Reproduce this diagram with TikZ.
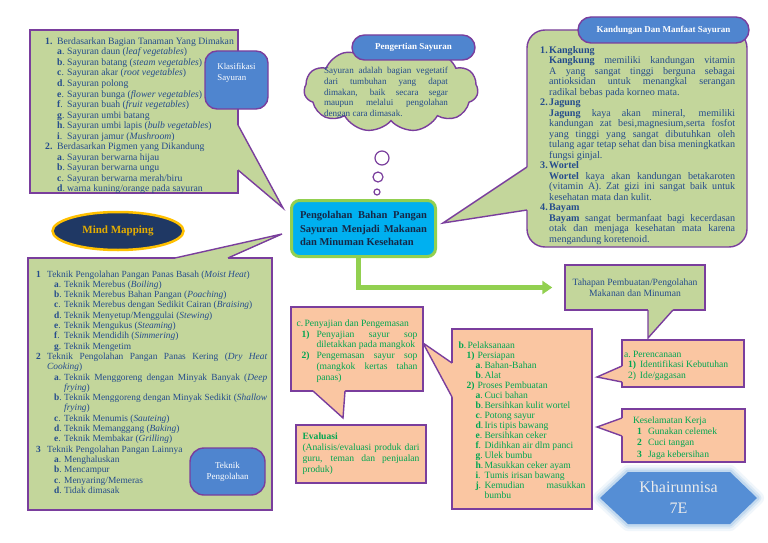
\documentclass[tikz,border=0pt]{standalone}
\usepackage{fontspec}
\setmainfont{Liberation Serif}
\usetikzlibrary{shapes.geometric,shapes.symbols,arrows.meta,positioning}

\definecolor{boxgreen}{HTML}{C3D69B}
\definecolor{boxpeach}{HTML}{FAC6A2}
\definecolor{boxpurple}{HTML}{7A3E9D}
\definecolor{labelblue}{HTML}{4F85CF}
\definecolor{navytext}{HTML}{254C8C}
\definecolor{leafgreen}{HTML}{00A650}
\definecolor{cyanfill}{HTML}{00B0F0}
\definecolor{limegreen}{HTML}{92D050}
\definecolor{darknavy}{HTML}{1F3864}
\definecolor{goldline}{HTML}{FFC000}
\definecolor{hexblue}{HTML}{558ED5}
\definecolor{glowblue}{HTML}{9DC3E6}

\hyphenpenalty=10000
\exhyphenpenalty=10000
\lineskiplimit=-6pt

% list row: indent, label width, label, text
\newcommand{\lrow}[4]{\par\noindent\hangindent=\dimexpr#1+#2\relax\hangafter=1\hspace*{#1}\makebox[#2][l]{#3}#4\par}
% callout tail: fill, base start, tip, base end, inward shift
\newcommand{\calltail}[5]{%
  \fill[#1] ([shift={(#5)}]#2) -- (#2) -- (#3) -- (#4) -- ([shift={(#5)}]#4) -- cycle;
  \draw[tailline] (#2) -- (#3) -- (#4);}

\tikzset{
  callgreen/.style={draw=boxpurple, fill=boxgreen, line width=1.4pt, inner sep=0pt},
  callpeach/.style={draw=boxpurple, fill=boxpeach, line width=1.4pt, inner sep=0pt},
  tailline/.style={draw=boxpurple, line width=1.4pt, line join=miter},
  tagbox/.style={draw=boxpurple, fill=labelblue, line width=1.4pt, text=white, inner sep=0pt},
  navytxt/.style={anchor=north west, inner sep=0pt, text=navytext, align=justify, font=\fontsize{9}{10}\selectfont},
  leaftxt/.style={text=leafgreen, align=justify, font=\fontsize{9.6}{10.5}\selectfont},
  bubble/.style={draw=boxpurple, fill=white, line width=1.2pt},
  flowarrow/.style={-{Triangle[length=10pt,width=13pt]}, line width=4.5pt, draw=limegreen, shorten >=12pt}
}

\begin{document}
\begin{tikzpicture}[x=1pt,y=-1pt]
  \useasboundingbox[fill=white] (0,0) rectangle (768,543);

  % klasifikasi
  \node[callgreen, minimum width=208, minimum height=163] (klas) at (134,111.5) {};
  \calltail{boxgreen}{238,125}{283,208}{238,170}{-2,0}
  \node[navytxt, text width=192, font=\fontsize{9.7}{10.55}\selectfont] (klasList) at (45,33.5) {%
    \lrow{0pt}{12pt}{\textbf{1.}}{Berdasarkan Bagian Tanaman Yang Dimakan}
    \lrow{12pt}{10pt}{\textbf{a}.}{Sayuran daun (\textit{leaf vegetables})}
    \lrow{12pt}{10pt}{\textbf{b}.}{Sayuran batang (\textit{steam vegetables})}
    \lrow{12pt}{10pt}{\textbf{c}.}{Sayuran akar (\textit{root vegetables})}
    \lrow{12pt}{10pt}{\textbf{d}.}{Sayuran polong}
    \lrow{12pt}{10pt}{\textbf{e}.}{Sayuran bunga (\textit{flower vegetables})}
    \lrow{12pt}{10pt}{\textbf{f}.}{Sayuran buah (\textit{fruit vegetables})}
    \lrow{12pt}{10pt}{\textbf{g}.}{Sayuran umbi batang}
    \lrow{12pt}{10pt}{\textbf{h}.}{Sayuran umbi lapis (\textit{bulb vegetables})}
    \lrow{12pt}{10pt}{\textbf{i}.}{Sayuran jamur (\textit{Mushroom})}
    \lrow{0pt}{12pt}{\textbf{2.}}{Berdasarkan Pigmen yang Dikandung}
    \lrow{12pt}{10pt}{\textbf{a}.}{Sayuran berwarna hijau}
    \lrow{12pt}{10pt}{\textbf{b}.}{Sayuran berwarna ungu}
    \lrow{12pt}{10pt}{\textbf{c}.}{Sayuran berwarna merah/biru}
    \lrow{12pt}{10pt}{\textbf{d}.}{warna kuning/orange pada sayuran}};
  \node[tagbox, rounded corners=12pt, minimum width=63, minimum height=58, align=left,
        text depth=16pt, font=\fontsize{8.8}{11}\selectfont] (klasTag) at (236.5,80) {Klasifikasi\\Sayuran};

  % pengertian
  \node[cloud, cloud puffs=11, cloud puff arc=110, aspect=2.1, draw=boxpurple, fill=boxgreen,
        line width=1.4pt, minimum width=174, minimum height=86] (pengertian) at (391,89) {};
  \node[text width=124, inner sep=0pt, align=justify, text=navytext,
        font=\fontsize{9.1}{10.75}\selectfont] (pengertianText) at (386,93)
    {Sayuran adalah bagian vegetatif dari tumbuhan yang dapat dimakan, baik secara segar maupun melalui pengolahan dengan cara dimasak.};
  \node[tagbox, rounded corners=12.5pt, minimum width=123, minimum height=25,
        font=\bfseries\fontsize{9}{10}\selectfont] (pengertianTag) at (413.5,47.5) {Pengertian Sayuran};
  \foreach \cx/\cy/\r in {382/158/7, 378/177/5, 377/192/3}
    \draw[bubble] (\cx,\cy) circle (\r);

  % kandungan dan manfaat
  \node[callgreen, rounded corners=18pt, minimum width=220, minimum height=217] (manfaat) at (637,138.5) {};
  \calltail{boxgreen}{527,167}{443,223}{527,210}{2,0}
  \node[navytxt, text width=195, font=\fontsize{10.1}{10.5}\selectfont] (manfaatList) at (540,42.5) {%
    \lrow{0pt}{9pt}{\textbf{1.}}{\textbf{Kangkung}}
    \lrow{9pt}{0pt}{}{\textbf{Kangkung} memiliki kandungan vitamin A yang sangat tinggi berguna sebagai antioksidan untuk menangkal serangan radikal bebas pada korneo mata.}
    \lrow{0pt}{9pt}{\textbf{2.}}{\textbf{Jagung}}
    \lrow{9pt}{0pt}{}{\textbf{Jagung} kaya akan mineral, memiliki kandungan zat besi,magnesium,serta fosfot yang tinggi yang sangat dibutuhkan oleh tulang agar tetap sehat dan bisa meningkatkan fungsi ginjal.}
    \lrow{0pt}{9pt}{\textbf{3.}}{\textbf{Wortel}}
    \lrow{9pt}{0pt}{}{\textbf{Wortel} kaya akan kandungan betakaroten (vitamin A). Zat gizi ini sangat baik untuk kesehatan mata dan kulit.}
    \lrow{0pt}{9pt}{\textbf{4.}}{\textbf{Bayam}}
    \lrow{9pt}{0pt}{}{\textbf{Bayam} sangat bermanfaat bagi kecerdasan otak dan menjaga kesehatan mata karena mengandung koretenoid.}};
  \node[tagbox, rounded corners=13pt, minimum width=171, minimum height=26,
        font=\bfseries\fontsize{9}{10}\selectfont] (manfaatTag) at (663.5,30) {Kandungan Dan Manfaat Sayuran};

  % mind mapping
  \node[ellipse, draw=goldline, fill=darknavy, line width=2.5pt, minimum width=131, minimum height=38,
        text=goldline!90!black, font=\bfseries\fontsize{11}{12}\selectfont] (mind) at (118,231) {Mind Mapping};

  % teknik pengolahan
  \node[callgreen, minimum width=244, minimum height=252] (teknik) at (150,384) {};
  \calltail{boxgreen}{175,258}{282,234}{228,258}{0,2}
  \node[navytxt, text width=231, font=\fontsize{9.4}{10.3}\selectfont] (teknikList) at (36,266.5) {%
    \lrow{0pt}{11pt}{\textbf{1}}{Teknik Pengolahan Pangan Panas Basah (\textit{Moist Heat})}
    \lrow{18pt}{10pt}{\textbf{a}.}{Teknik Merebus (\textit{Boiling})}
    \lrow{18pt}{10pt}{\textbf{b}.}{Teknik Merebus Bahan Pangan (\textit{Poaching})}
    \lrow{18pt}{10pt}{\textbf{c}.}{Teknik Merebus dengan Sedikit Cairan (\textit{Braising})}
    \lrow{18pt}{10pt}{\textbf{d}.}{Teknik Menyetup/Menggulai (\textit{Stewing})}
    \lrow{18pt}{10pt}{\textbf{e}.}{Teknik Mengukus (\textit{Steaming})}
    \lrow{18pt}{10pt}{\textbf{f}.}{Teknik Mendidih (\textit{Simmering})}
    \lrow{18pt}{10pt}{\textbf{g}.}{Teknik Mengetim}
    \lrow{0pt}{11pt}{\textbf{2}}{Teknik Pengolahan Pangan Panas Kering (\textit{Dry Heat Cooking})}
    \lrow{18pt}{10pt}{\textbf{a}.}{Teknik Menggoreng dengan Minyak Banyak (\textit{Deep frying})}
    \lrow{18pt}{10pt}{\textbf{b}.}{Teknik Menggoreng dengan Minyak Sedikit (\textit{Shallow frying})}
    \lrow{18pt}{10pt}{\textbf{c}.}{Teknik Menumis (\textit{Sauteing})}
    \lrow{18pt}{10pt}{\textbf{d}.}{Teknik Memanggang (\textit{Baking})}
    \lrow{18pt}{10pt}{\textbf{e}.}{Teknik Membakar (\textit{Grilling})}
    \lrow{0pt}{11pt}{\textbf{3}}{Teknik Pengolahan Pangan Lainnya}
    \lrow{18pt}{10pt}{\textbf{a}.}{Menghaluskan}
    \lrow{18pt}{10pt}{\textbf{b}.}{Mencampur}
    \lrow{18pt}{10pt}{\textbf{c}.}{Menyaring/Memeras}
    \lrow{18pt}{10pt}{\textbf{d}.}{Tidak dimasak}};
  \node[tagbox, rounded corners=14pt, minimum width=75, minimum height=47, align=center,
        font=\fontsize{9}{11}\selectfont] (teknikTag) at (227.5,471.5) {Teknik\\Pengolahan};

  % central topic
  \node[draw=limegreen, fill=cyanfill, line width=3pt, rounded corners=8pt, minimum width=144,
        minimum height=56, text width=127, align=justify, text=darknavy!70!black,
        font=\bfseries\fontsize{10.5}{13.5}\selectfont] (central) at (363.5,228.5)
    {Pengolahan Bahan Pangan Sayuran Menjadi Makanan dan Minuman Kesehatan};

  % tahapan
  \node[callgreen, minimum width=140, minimum height=45, align=center, text=navytext,
        font=\fontsize{9.6}{11}\selectfont] (tahapan) at (635,287.5)
    {Tahapan Pembuatan/Pengolahan\\Makanan dan Minuman};
  \calltail{boxgreen}{648,310}{648,338}{673,310}{0,-2}
  \draw[flowarrow] ([xshift=-5pt]central.south) |- (tahapan.west);

  % perencanaan
  \node[callpeach, minimum width=122, minimum height=47, text width=118, leaftxt,
        font=\fontsize{9.6}{10.5}\selectfont] (perencanaan) at (683,363.5) {%
    \lrow{0pt}{9pt}{a.}{Perencanaan}
    \lrow{4pt}{12pt}{\textbf{1)}}{Identifikasi Kebutuhan}
    \lrow{4pt}{12pt}{2)}{Ide/gagasan}};
  \calltail{boxpeach}{622,366}{597,377}{622,382}{2,0}

  % keselamatan kerja
  \node[callpeach, minimum width=123, minimum height=53, text width=101, leaftxt,
        font=\fontsize{9.6}{11.3}\selectfont] (keselamatan) at (683.5,435.5) {%
    \lrow{0pt}{0pt}{}{Keselamatan Kerja}
    \lrow{4pt}{11pt}{\textbf{1}}{Gunakan celemek}
    \lrow{4pt}{11pt}{\textbf{2}}{Cuci tangan}
    \lrow{4pt}{11pt}{\textbf{3}}{Jaga kebersihan}};
  \calltail{boxpeach}{622,418}{597,427}{622,436}{2,0}

  % pelaksanaan
  \node[callpeach, minimum width=140, minimum height=180, text width=127, leaftxt,
        font=\fontsize{9.6}{10}\selectfont] (pelaksanaan) at (522,419) {%
    \lrow{0pt}{9pt}{\textbf{b}.}{Pelaksanaan}
    \lrow{8pt}{11pt}{\textbf{1)}}{Persiapan}
    \lrow{17pt}{9pt}{\textbf{a}.}{Bahan-Bahan}
    \lrow{17pt}{9pt}{\textbf{b}.}{Alat}
    \lrow{8pt}{11pt}{\textbf{2)}}{Proses Pembuatan}
    \lrow{17pt}{9pt}{\textbf{a}.}{Cuci bahan}
    \lrow{17pt}{9pt}{\textbf{b}.}{Bersihkan kulit wortel}
    \lrow{17pt}{9pt}{\textbf{c}.}{Potong sayur}
    \lrow{17pt}{9pt}{\textbf{d}.}{Iris tipis bawang}
    \lrow{17pt}{9pt}{\textbf{e}.}{Bersihkan ceker}
    \lrow{17pt}{9pt}{\textbf{f}.}{Didihkan air dlm panci}
    \lrow{17pt}{9pt}{\textbf{g}.}{Ulek bumbu}
    \lrow{17pt}{9pt}{\textbf{h}.}{Masukkan ceker ayam}
    \lrow{17pt}{9pt}{\textbf{i}.}{Tumis irisan bawang}
    \lrow{17pt}{9pt}{\textbf{j}.}{Kemudian masukkan\linebreak bumbu}};
  \calltail{boxpeach}{452,363}{423,343}{452,397}{2,0}

  % penyajian
  \node[callpeach, minimum width=132, minimum height=84, text width=121, leaftxt,
        font=\fontsize{9.6}{10.8}\selectfont] (penyajian) at (357,349) {%
    \lrow{0pt}{8pt}{c.}{Penyajian dan Pengemasan}
    \lrow{5pt}{15pt}{\textbf{1)}}{Penyajian sayur sop diletakkan pada mangkok}
    \lrow{5pt}{15pt}{\textbf{2)}}{Pengemasan sayur sop (mangkok kertas tahan panas)}};
  \calltail{boxpeach}{313,391}{343,418}{345,391}{0,-2}

  % evaluasi
  \node[callpeach, minimum width=130, minimum height=58, text width=117, leaftxt,
        font=\fontsize{9.6}{11}\selectfont] (evaluasi) at (361,454)
    {\textbf{Evaluasi}\\(Analisis/evaluasi produk dari guru, teman dan penjualan produk)};

  % name plate
  \foreach \w/\o in {14/0.15, 9/0.25, 5/0.4}
    \draw[line width=\w pt, draw=glowblue, opacity=\o, line join=round]
      (600,498) -- (628,472) -- (730,472) -- (757,498) -- (730,524) -- (628,524) -- cycle;
  \fill[hexblue] (600,498) -- (628,472) -- (730,472) -- (757,498) -- (730,524) -- (628,524) -- cycle;
  \node[text=gray!15, align=center, font=\fontsize{16}{21}\selectfont] (nama) at (678.5,497) {Khairunnisa\\7E};
\end{tikzpicture}
\end{document}
